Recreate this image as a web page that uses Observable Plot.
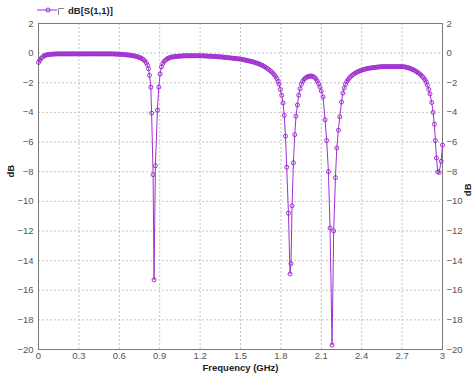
<!DOCTYPE html>
<html><head><meta charset="utf-8">
<script src="https://cdn.jsdelivr.net/npm/d3@7"></script>
<script src="https://cdn.jsdelivr.net/npm/@observablehq/plot@0.6"></script>
<style>
body{margin:0;background:#fff;}
#wrap{position:relative;width:474px;height:374px;}
#legend{position:absolute;left:36px;top:2px;height:16px;display:flex;align-items:center;font:bold 9.5px "Liberation Sans Narrow","Arial Narrow","Liberation Sans",sans-serif;color:#222;}
</style>
</head><body>
<div id="wrap"><div id="legend"></div></div>
<script>
const freqGHz = [
0.00,0.01,0.02,0.03,0.04,0.05,0.06,0.07,0.08,0.09,
0.10,0.11,0.12,0.13,0.14,0.15,0.16,0.17,0.18,0.19,
0.20,0.21,0.22,0.23,0.24,0.25,0.26,0.27,0.28,0.29,
0.30,0.31,0.32,0.33,0.34,0.35,0.36,0.37,0.38,0.39,
0.40,0.41,0.42,0.43,0.44,0.45,0.46,0.47,0.48,0.49,
0.50,0.51,0.52,0.53,0.54,0.55,0.56,0.57,0.58,0.59,
0.60,0.61,0.62,0.63,0.64,0.65,0.66,0.67,0.68,0.69,
0.70,0.71,0.72,0.73,0.74,0.75,0.76,0.77,0.78,0.79,
0.80,0.81,0.817,0.824,0.834,0.840,0.851,0.858,0.868,0.883,
0.893,0.903,0.913,0.923,0.933,0.943,0.953,0.963,0.973,0.983,
0.993,1.00,1.01,1.02,1.03,1.04,1.05,1.06,1.07,1.08,
1.09,1.10,1.11,1.12,1.13,1.14,1.15,1.16,1.17,1.18,
1.19,1.20,1.21,1.22,1.23,1.24,1.25,1.26,1.27,1.28,
1.29,1.30,1.31,1.32,1.33,1.34,1.35,1.36,1.37,1.38,
1.39,1.40,1.41,1.42,1.43,1.44,1.45,1.46,1.47,1.48,
1.49,1.50,1.51,1.52,1.53,1.54,1.55,1.56,1.57,1.58,
1.59,1.60,1.61,1.62,1.63,1.64,1.65,1.66,1.67,1.68,
1.69,1.70,1.71,1.72,1.73,1.74,1.75,1.76,1.77,1.78,
1.786,1.796,1.806,1.816,1.825,1.834,1.843,1.856,1.868,1.875,
1.883,1.893,1.903,1.912,1.923,1.932,1.942,1.952,1.962,1.972,
1.982,1.992,2.00,2.01,2.02,2.03,2.04,2.05,2.06,2.07,
2.08,2.09,2.10,2.113,2.128,2.14,2.153,2.165,2.18,2.192,
2.205,2.215,2.227,2.237,2.25,2.26,2.27,2.28,2.29,2.30,
2.31,2.32,2.33,2.34,2.35,2.36,2.37,2.38,2.39,2.40,
2.41,2.42,2.43,2.44,2.45,2.46,2.47,2.48,2.49,2.50,
2.51,2.52,2.53,2.54,2.55,2.56,2.57,2.58,2.59,2.60,
2.61,2.62,2.63,2.64,2.65,2.66,2.67,2.68,2.69,2.70,
2.71,2.72,2.73,2.74,2.75,2.76,2.77,2.78,2.79,2.80,
2.81,2.82,2.83,2.84,2.85,2.86,2.87,2.88,2.888,2.898,
2.907,2.92,2.93,2.94,2.947,2.955,2.965,2.975,2.99,3.00
];
const s11dB = [
-0.63,-0.48,-0.35,-0.26,-0.19,-0.15,-0.12,-0.10,-0.09,-0.08,
-0.07,-0.065,-0.06,-0.055,-0.05,-0.05,-0.05,-0.05,-0.05,-0.05,
-0.05,-0.05,-0.05,-0.05,-0.05,-0.05,-0.05,-0.05,-0.05,-0.05,
-0.05,-0.05,-0.05,-0.05,-0.05,-0.05,-0.05,-0.05,-0.05,-0.05,
-0.05,-0.05,-0.05,-0.05,-0.05,-0.05,-0.05,-0.05,-0.05,-0.05,
-0.05,-0.05,-0.05,-0.05,-0.05,-0.05,-0.055,-0.06,-0.065,-0.07,
-0.075,-0.08,-0.085,-0.09,-0.10,-0.11,-0.12,-0.13,-0.14,-0.16,
-0.17,-0.19,-0.21,-0.23,-0.26,-0.29,-0.33,-0.38,-0.45,-0.53,
-0.65,-0.82,-1.05,-1.5,-2.3,-4.05,-8.2,-15.3,-7.6,-3.85,
-2.3,-1.4,-0.93,-0.7,-0.56,-0.47,-0.4,-0.35,-0.31,-0.28,
-0.26,-0.25,-0.24,-0.23,-0.22,-0.21,-0.2,-0.2,-0.19,-0.18,
-0.18,-0.18,-0.18,-0.18,-0.18,-0.18,-0.18,-0.18,-0.18,-0.18,
-0.18,-0.18,-0.18,-0.18,-0.19,-0.19,-0.2,-0.2,-0.21,-0.21,
-0.22,-0.22,-0.23,-0.23,-0.24,-0.25,-0.25,-0.26,-0.27,-0.28,
-0.29,-0.3,-0.31,-0.32,-0.33,-0.34,-0.35,-0.36,-0.37,-0.38,
-0.39,-0.4,-0.42,-0.44,-0.46,-0.48,-0.5,-0.52,-0.54,-0.56,
-0.58,-0.61,-0.64,-0.67,-0.7,-0.74,-0.78,-0.82,-0.87,-0.92,
-0.98,-1.04,-1.11,-1.18,-1.26,-1.35,-1.45,-1.57,-1.72,-1.9,
-2.1,-2.45,-2.85,-3.36,-4.2,-5.6,-7.7,-10.8,-14.9,-14.2,
-10.3,-7.4,-5.5,-4.26,-3.5,-2.84,-2.4,-2.1,-1.9,-1.77,
-1.68,-1.62,-1.59,-1.56,-1.55,-1.55,-1.58,-1.64,-1.74,-1.88,
-2.06,-2.28,-2.55,-2.95,-4.5,-5.9,-8.0,-11.8,-19.7,-12.0,
-8.4,-6.4,-5.2,-4.3,-3.3,-2.7,-2.35,-2.1,-1.92,-1.78,
-1.66,-1.57,-1.49,-1.42,-1.36,-1.31,-1.26,-1.22,-1.18,-1.15,
-1.12,-1.09,-1.07,-1.05,-1.03,-1.01,-1.0,-0.98,-0.97,-0.96,
-0.95,-0.94,-0.93,-0.92,-0.91,-0.91,-0.91,-0.91,-0.91,-0.91,
-0.91,-0.91,-0.91,-0.91,-0.91,-0.91,-0.91,-0.91,-0.91,-0.91,
-0.92,-0.93,-0.95,-0.97,-1.0,-1.03,-1.07,-1.11,-1.16,-1.21,
-1.27,-1.33,-1.4,-1.48,-1.57,-1.67,-1.8,-1.95,-2.16,-2.45,
-2.75,-3.33,-4.0,-4.8,-5.9,-7.07,-8.0,-8.05,-7.3,-6.2
];
const xTicks = [0,0.3,0.6,0.9,1.2,1.5,1.8,2.1,2.4,2.7,3];
const xTickLabels = ["0","0.3","0.6","0.9","1.2","1.5","1.8","2.1","2.4","2.7","3"];
const yTicks = [2,0,-2,-4,-6,-8,-10,-12,-14,-16,-18,-20];
const seriesName = "dB[S(1,1)]";
const xTitle = "Frequency (GHz)";
const yTitle = "dB";

const color = "#a030d0";
const data = freqGHz.map((f, i) => ({f, db: s11dB[i]}));
const font = '"Liberation Sans Narrow","Arial Narrow","Liberation Sans",sans-serif';

const chart = Plot.plot({
  width: 474, height: 374,
  marginTop: 23, marginBottom: 25, marginLeft: 38, marginRight: 32,
  style: {fontFamily: font, fontSize: "9.5px", color: "#555", background: "#fff"},
  x: {domain: [0, 3]},
  y: {domain: [-20, 2]},
  marks: [
    Plot.gridX(xTicks.slice(1, -1), {stroke: "#c4c4c4", strokeOpacity: 1, strokeDasharray: "2,2"}),
    Plot.gridY(yTicks.slice(1, -1), {stroke: "#c4c4c4", strokeOpacity: 1, strokeDasharray: "2,2"}),
    Plot.axisX({ticks: xTicks, tickSize: 0, tickPadding: 3, tickFormat: (d) => xTickLabels[xTicks.indexOf(d)], label: null}),
    Plot.axisY({ticks: yTicks, anchor: "left", tickSize: 0, tickPadding: 5, label: null}),
    Plot.axisY({ticks: yTicks, anchor: "right", tickSize: 0, tickPadding: 4, label: null}),
    Plot.frame({stroke: "#7a7a7a"}),
    Plot.line(data, {x: "f", y: "db", stroke: color, strokeWidth: 1}),
    Plot.dot(data, {x: "f", y: "db", r: 2, stroke: color, strokeWidth: 1, fill: "none"}),
    Plot.text([xTitle], {frameAnchor: "bottom", dy: 21, fontWeight: "bold", fill: "#222", fontSize: 9.5}),
    Plot.text([yTitle], {frameAnchor: "left", dx: -28, dy: -9, rotate: -90, fontWeight: "bold", fill: "#222", fontSize: 9.5}),
    Plot.text([yTitle], {frameAnchor: "right", dx: 25, dy: -3, rotate: -90, fontWeight: "bold", fill: "#222", fontSize: 9.5})
  ]
});
document.getElementById("wrap").prepend(chart);

const lg = document.getElementById("legend");
lg.innerHTML = `<svg width="30" height="12" style="margin-right:2px"><line x1="1" y1="6" x2="21" y2="6" stroke="${color}" stroke-width="1"/><circle cx="12" cy="6" r="2" fill="none" stroke="${color}"/><path d="M22.5 11V4.5H28" fill="none" stroke="#888"/></svg><span>${seriesName}</span>`;
</script>
</body></html>
